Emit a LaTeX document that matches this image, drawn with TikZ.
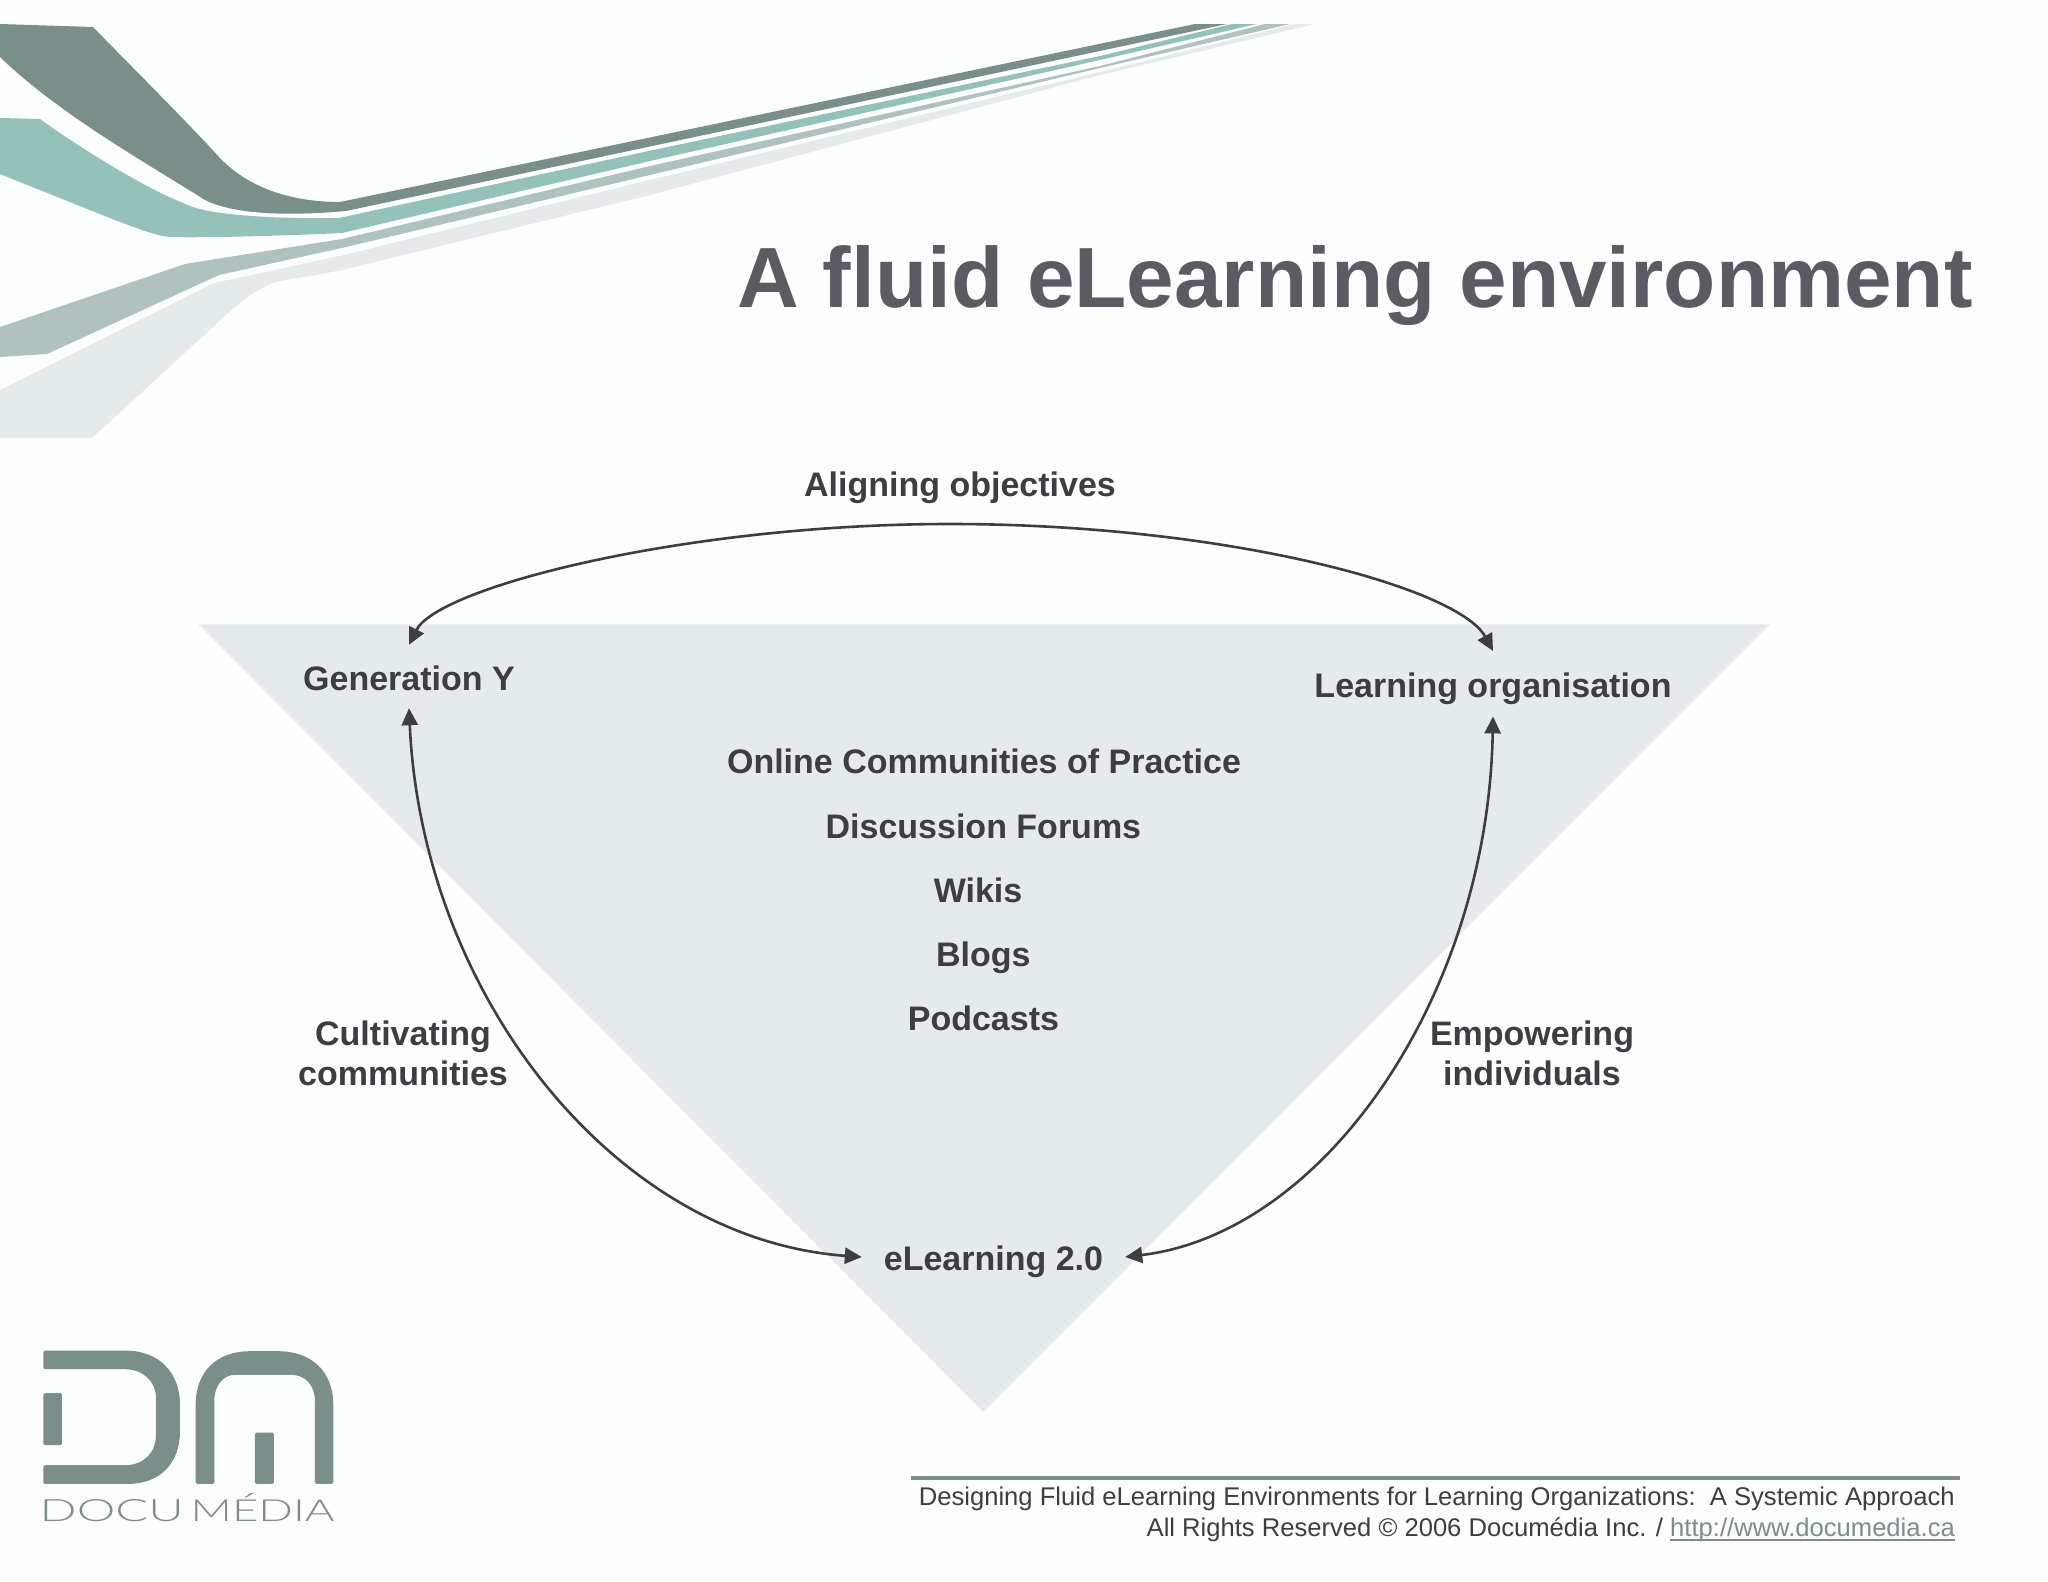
\documentclass[tikz,border=0pt]{standalone}
\usepackage{fontspec}
\setmainfont{Liberation Sans}
\newfontfamily\logofont[UprightFont=* Light]{Lato}
\usetikzlibrary{arrows.meta}
\definecolor{bgc}{HTML}{FDFEFE}
\definecolor{rone}{HTML}{7A8E8A}
\definecolor{rtwo}{HTML}{94C2BA}
\definecolor{rthree}{HTML}{B0C2BF}
\definecolor{rfour}{HTML}{E5EAEB}
\definecolor{titlec}{HTML}{5A5C64}
\definecolor{textc}{HTML}{3C3E42}
\newcommand\capbox[1]{\raisebox{0pt}[27.5pt][0pt]{#1}}
\newcommand\listbox[1]{\vphantom{Ag}#1}
\newcommand\linkul[1]{\setbox0\hbox{#1}\rlap{\rule[-4pt]{\wd0}{1.8pt}}\box0}
\tikzset{
  x=1pt,y=-1pt,
  lab/.style={font=\fontsize{34}{40.5}\selectfont\bfseries,text=textc,inner sep=0pt,align=center},
  foot/.style={font=\fontsize{25.6}{31}\selectfont,text=textc,inner sep=0pt,anchor=east},
  conn/.style={line width=2.6pt,draw=textc,{Triangle[length=17pt,width=16pt]}-{Triangle[length=17pt,width=16pt]}},
  logot/.style={inner sep=0pt,anchor=base west,text=rone},
}
\begin{document}
\begin{tikzpicture}
\useasboundingbox (0,0) rectangle (2048,1582);
\fill[bgc] (0,0) rectangle (2048,1582);
% ribbons
\fill[rone] (0,24) -- (93,27) .. controls (130,65) and (190,125) .. (219,157) .. controls (250,190) and (295,202) .. (340,202) -- (1195,24) -- (1227,24) -- (346,211) .. controls (290,216) and (235,215) .. (205,200) .. controls (150,165) and (60,115) .. (0,57) -- cycle;
\fill[rtwo] (0,118) -- (40,119) .. controls (90,155) and (150,190) .. (183,203) .. controls (205,215) and (270,219) .. (339,218) -- (650,150.7) -- (1100,56) -- (1232,24) -- (1257,24) -- (1100,60) -- (650,161) -- (342,233) .. controls (280,236) and (200,238) .. (170,237) .. controls (150,235) and (130,226) .. (0,174) -- cycle;
\fill[rthree] (0,327) -- (185,264) -- (342,239) -- (650,166) -- (1100,66) -- (1265,24) -- (1290,24) -- (1100,68) -- (650,175) -- (346,247) -- (219,275) -- (47,354) -- (0,357) -- cycle;
\fill[rfour] (0,390) -- (214,283) -- (344,255) -- (650,180) -- (1100,72) -- (1295,24) -- (1315,24) -- (1100,75) -- (650,195) -- (346,269) .. controls (310,277) and (290,278) .. (272,283) .. controls (258,290) and (245,298) .. (237,305) -- (92,438) -- (0,438) -- cycle;
% triangle
\fill[rfour] (198.5,624.3) -- (1769.7,624.3) -- (983.4,1411.8) -- cycle;
% title
\node[inner sep=0pt,text=titlec,font=\fontsize{85.5}{90}\selectfont\bfseries] (title) at (1355,286) {A fluid eLearning environment};
% labels
\node[lab] (align) at (960,488) {Aligning objectives};
\node[lab,minimum height=63pt] (geny) at (409,676.5) {\capbox{Generation Y}};
\node[lab,minimum height=65pt] (lo) at (1493,683.7) {\capbox{Learning organisation}};
\node[lab] (ocp) at (984,765) {\listbox{Online Communities of Practice}};
\node[lab] (df) at (983.4,829.3) {\listbox{Discussion Forums}};
\node[lab] (wk) at (978,893.6) {\listbox{Wikis}};
\node[lab] (bl) at (983.4,957.9) {\listbox{Blogs}};
\node[lab] (pc) at (983.4,1022.2) {\listbox{Podcasts}};
\node[lab] (cc) at (403,1053.5) {Cultivating\\communities};
\node[lab] (ei) at (1532,1053.5) {Empowering\\individuals};
\node[lab,minimum width=263pt] (el) at (993.5,1257) {\capbox{eLearning 2.0}};
% connectors
\draw[conn] (geny.north) .. controls (438,587) and (686,524) .. (950,524) .. controls (1224,524) and (1458,587) .. (lo.north);
\draw[conn] (geny.south) .. controls (422,995) and (615,1239) .. (el.west);
\draw[conn] (lo.south) .. controls (1488,995) and (1325,1233) .. (el.east);
% logo
\begin{scope}[x=0.3333pt,y=-0.3333pt,shift={(0,3960)},rone,rounded corners=1.5pt]
\fill (130,92) -- (370,92) .. controls (480,92) and (540,160) .. (540,260) -- (540,330) .. controls (540,430) and (480,492) .. (380,492) -- (130,492) -- (130,436) -- (370,436) .. controls (430,436) and (468,400) .. (468,340) -- (468,240) .. controls (468,185) and (430,148) .. (370,148) -- (130,148) -- cycle;
\fill (130,220) rectangle (186,376);
\fill (587,492) -- (587,260) .. controls (587,155) and (650,94) .. (755,94) -- (830,94) .. controls (935,94) and (1000,155) .. (1000,260) -- (1000,492) -- (945,492) -- (945,250) .. controls (945,195) and (915,165) .. (870,165) -- (710,165) .. controls (670,165) and (643,195) .. (643,250) -- (643,492) -- cycle;
\fill (765,338) rectangle (822,492);
\end{scope}
\node[logot] (logoa) at (39.5,1521) {\resizebox{144pt}{22pt}{\logofont DOCU}};
\node[logot] (logob) at (190.5,1521) {\resizebox{144pt}{28pt}{\logofont MÉDIA}};
% footer
\coordinate (rl) at (911,1478);
\coordinate (rr) at (1960,1478);
\draw[line width=3.5pt,draw=rone] (rl) -- (rr);
\node[foot] (f1) at (1955,1499) {Designing Fluid eLearning Environments for Learning Organizations:\ \ A Systemic Approach};
\node[foot] (f2) at (1955,1530) {All Rights Reserved © 2006 Documédia Inc. / \textcolor{rone}{\linkul{http://www.documedia.ca}}};
\end{tikzpicture}
\end{document}
